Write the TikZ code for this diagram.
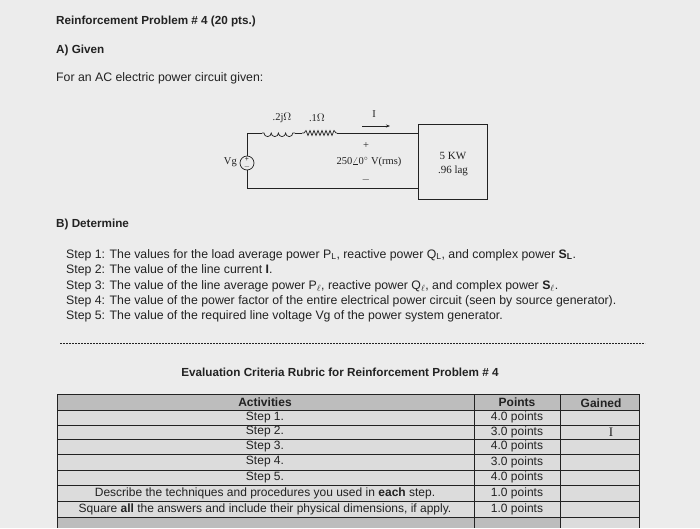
\documentclass[tikz,border=0pt]{standalone}
\usepackage{fontspec}
\setmainfont{Liberation Sans}
\newfontfamily\serifc{Liberation Serif}
\usetikzlibrary{decorations.pathmorphing,arrows.meta}
\definecolor{bg}{HTML}{ECECEC}
\definecolor{hdr}{HTML}{BDBDBD}
\definecolor{rowc}{HTML}{DCDCDC}
\definecolor{ink}{HTML}{222222}
\tikzset{
  txt/.style={anchor=west,inner sep=0pt,text=ink,font=\fontsize{12.3}{14}\selectfont},
  btxt/.style={txt,font=\fontsize{11.7}{14}\selectfont\bfseries},
  cell/.style={inner sep=0pt,text=ink,font=\fontsize{12}{13}\selectfont},
  ctxt/.style={inner sep=0pt,text=ink,font=\serifc\fontsize{10.5}{11}\selectfont},
  wire/.style={draw=ink,line width=0.7pt}
}
\begin{document}
\begin{tikzpicture}[x=1pt,y=-1pt]
\fill[bg] (0,0) rectangle (700,528);
\useasboundingbox (0,0) rectangle (700,528);
\node[btxt] (t1) at (56,21) {Reinforcement Problem \# 4 (20 pts.)};
\node[btxt] (t2) at (56,50) {A) Given};
\node[txt] (t3) at (56,78) {For an AC electric power circuit given:};
% circuit
\coordinate (tl) at (247,133); \coordinate (bl) at (247,188);
\node[draw=ink,circle,minimum size=14pt,inner sep=0pt,line width=0.7pt] (src) at (247,163) {};
\node[ctxt,font=\fontsize{7}{7}\selectfont] at (247,159.5) {+};
\node[ctxt,font=\fontsize{7}{7}\selectfont] at (247,166.5) {$-$};
\node[ctxt,anchor=east] (vg) at (237,162) {Vg};
\coordinate (l1) at (262,133); \coordinate (l2) at (295,133);
\coordinate (r1) at (302,133); \coordinate (r2) at (337,133);
\node[draw=ink,line width=0.7pt,minimum width=69pt,minimum height=75pt,inner sep=0pt] (load) at (452.5,161.5) {};
\draw[wire] (src.north) -- (tl) -- (l1);
\draw[wire] (l1) -- ++(2,0) foreach \i in {0,1,2,3} {arc[start angle=180,end angle=0,radius=3.6]} -- (l2);
\draw[wire] (l2) -- (r1);
\draw[wire] (r1) -- ++(2,0) -- ++(2,-2.5) foreach \i in {1,...,7} {-- ++(2,5) -- ++(2,-5)} -- ++(2,2.5) -- (r2);
\draw[wire] (r2) -- (load.west |- r2);
\draw[wire] (src.south) -- (bl) -- (load.west |- bl);
\node[ctxt] at (282,118) {.2j$\Omega$};
\node[ctxt] at (317,118) {.1$\Omega$};
\node[ctxt] (ii) at (374,114) {I};
\draw[-{Stealth[length=4pt]},draw=ink,line width=0.6pt] (362,126) -- (390,126);
\node[ctxt] at (366,146) {+};
\node[ctxt] at (369,162) {250$\angle$0$^\circ$ V(rms)};
\node[ctxt] at (366,180) {$-$};
\node[ctxt,font=\serifc\fontsize{11}{12}\selectfont] at (453,156) {5 KW};
\node[ctxt,font=\serifc\fontsize{11}{12}\selectfont] at (453,171) {.96 lag};
% determine
\node[btxt] at (56,224) {B) Determine};
\node[txt] at (66,255) {Step 1: The values for the load average power P\textsubscript{L}, reactive power Q\textsubscript{L}, and complex power \textbf{S\textsubscript{L}}.};
\node[txt] at (66,270) {Step 2: The value of the line current \textbf{I}.};
\node[txt] at (66,286) {Step 3: The value of the line average power P\textsubscript{$\ell$}, reactive power Q\textsubscript{$\ell$}, and complex power \textbf{S\textsubscript{$\ell$}}.};
\node[txt] at (66,301) {Step 4: The value of the power factor of the entire electrical power circuit (seen by source generator).};
\node[txt] at (66,316) {Step 5: The value of the required line voltage Vg of the power system generator.};
\draw[ink,line width=0.6pt,dash pattern=on 2pt off 1pt] (60,343) -- (645,343);
\node[btxt,anchor=center] at (340,372) {Evaluation Criteria Rubric for Reinforcement Problem \# 4};
% table
\fill[rowc] (57,394) rectangle (639,528);
\fill[hdr] (57,394) rectangle (639,410);
\fill[hdr] (57,517) rectangle (560,528);
\foreach \y in {394,410,425,439,454,470,485,501,517} \draw[ink,line width=0.6pt] (57,\y) -- (639,\y);
\foreach \x in {57,474,560,639} \draw[ink,line width=0.6pt] (\x,394) -- (\x,528);
\node[cell,font=\fontsize{12}{13}\selectfont\bfseries] at (265,402) {Activities};
\node[cell,font=\fontsize{12}{13}\selectfont\bfseries] at (517,402) {Points};
\node[cell,font=\fontsize{12}{13}\selectfont\bfseries] at (601,403) {Gained};
\foreach \y/\s/\p in {417.5/Step 1./4.0, 432/Step 2./3.0, 446.5/Step 3./4.0, 462/Step 4./3.0, 477.5/Step 5./4.0} {
  \node[cell] at (265,\y) {\s};
  \node[cell] at (517,\y) {\p\ points};
}
\node[cell] at (265,493) {Describe the techniques and procedures you used in \textbf{each} step.};
\node[cell] at (517,493) {1.0 points};
\node[cell] at (265,509) {Square \textbf{all} the answers and include their physical dimensions, if apply.};
\node[cell] at (517,509) {1.0 points};
\node[cell,font=\serifc\fontsize{13}{13}\selectfont] at (611,432) {I};
\end{tikzpicture}
\end{document}
